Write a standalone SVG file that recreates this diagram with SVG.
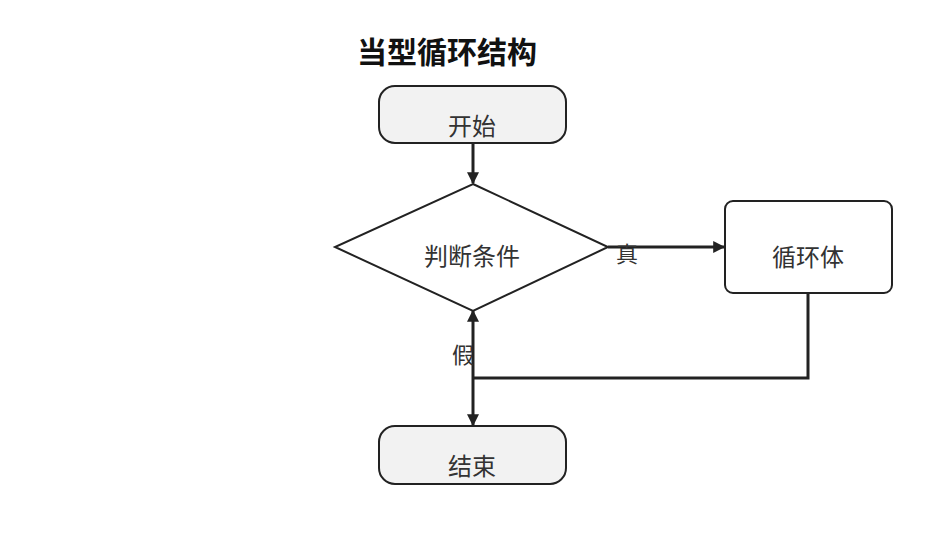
<svg xmlns="http://www.w3.org/2000/svg" width="945" height="546" viewBox="0 0 945 546">
<style>
text{font-family:"Noto Sans CJK SC","Noto Sans",sans-serif;fill:#333;}
.n{fill:#f2f2f2;stroke:#222;stroke-width:2;}
.l{font-size:24px;text-anchor:middle;dominant-baseline:central;}
.c{fill:none;stroke:#222;stroke-width:3;}
</style>
<defs><marker id="a" viewBox="0 0 10 10" refX="9" refY="5" markerWidth="4" markerHeight="4" orient="auto-start-reverse"><path d="M0,0L10,5L0,10z" fill="#222"/></marker></defs>
<text x="447" y="50" font-size="30" font-weight="bold" text-anchor="middle" dominant-baseline="central" style="fill:#111">当型循环结构</text>
<g id="start"><rect class="n" x="379" y="86" width="187" height="57" rx="16"/><text class="l" x="472" y="124">开始</text></g>
<g id="cond"><polygon points="473,184 608,247 473,311 335,247" fill="#fff" stroke="#222" stroke-width="2"/><text class="l" x="472" y="254">判断条件</text></g>
<g id="body"><rect class="n" x="725" y="201" width="167" height="92" rx="8" fill="#fff" style="fill:#fff"/><text class="l" x="808" y="255">循环体</text></g>
<g id="end"><rect class="n" x="379" y="426" width="187" height="58" rx="16"/><text class="l" x="472" y="464">结束</text></g>
<g id="connectors">
<line class="c" x1="473" y1="143" x2="473" y2="183" marker-end="url(#a)"/>
<line class="c" x1="608" y1="247" x2="724" y2="247" marker-end="url(#a)"/>
<line class="c" x1="473" y1="311" x2="473" y2="425" marker-end="url(#a)" marker-start="url(#a)"/>
<polyline class="c" points="808,293 808,378 473,378"/>
<text x="616" y="252" font-size="22" dominant-baseline="central">真</text>
<text x="452" y="353" font-size="22" dominant-baseline="central">假</text>
</g>
</svg>
